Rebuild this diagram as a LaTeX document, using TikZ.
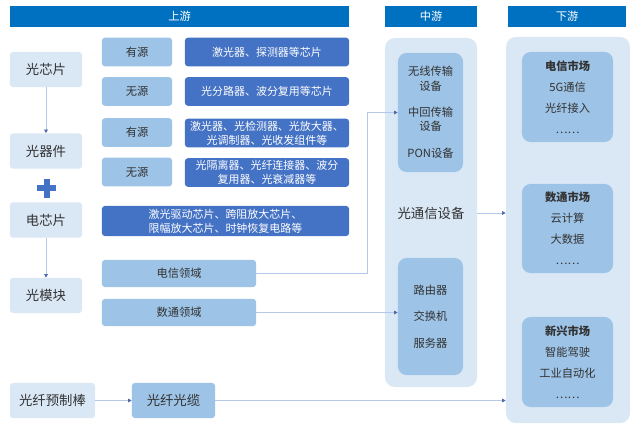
\documentclass[tikz,border=0pt]{standalone}
\usepackage{fontspec}
\setmainfont{Noto Sans CJK SC}
\usepackage{xcolor}
\usetikzlibrary{positioning, arrows.meta, calc}
\definecolor{headblue} {RGB}{0, 112, 192}
\definecolor{darkblue} {RGB}{68, 114, 196}
\definecolor{midblue}  {RGB}{157, 195, 230}
\definecolor{paleblue} {RGB}{218, 232, 246}
\definecolor{linkblue} {RGB}{180, 199, 231}
\definecolor{tipblue}  {RGB}{79, 106, 170}
\definecolor{textgray} {RGB}{50, 50, 50}
\newcommand{\boxfont}[1]{\fontsize{#1}{10pt}\selectfont}
\tikzset{
  % blue band over each stage
  hdr/.style={
    rectangle, fill=headblue, inner sep=0pt,
    minimum height=0.525cm, text=white, font=\boxfont{8}
  },
  % left column: the product chain
  leftbox/.style={
    rectangle, rounded corners=2pt, fill=paleblue, inner sep=0pt,
    minimum width=1.8cm, minimum height=0.875cm,
    text=textgray, font=\boxfont{9.5}
  },
  % active / passive tags
  typebox/.style={
    rectangle, rounded corners=2pt, fill=midblue, inner sep=0pt,
    minimum width=1.75cm, minimum height=0.7125cm,
    text=textgray, font=\boxfont{8}
  },
  % dark description boxes
  descbox/.style={
    rectangle, rounded corners=2pt, fill=darkblue, inner sep=0pt,
    minimum width=4.1cm, minimum height=0.7125cm, align=center,
    text=white, font=\boxfont{7.8}
  },
  field/.style={
    rectangle, rounded corners=2pt, fill=midblue, inner sep=0pt,
    minimum width=3.85cm, minimum height=0.675cm,
    text=textgray, font=\boxfont{8}
  },
  % stage background
  bigbox/.style={
    rectangle, rounded corners=7pt, fill=paleblue, inner sep=0pt
  },
  innerbox/.style={
    rectangle, rounded corners=6pt, fill=midblue, inner sep=0pt,
    align=center, text=textgray, font=\boxfont{8}
  },
  % connector style
  link/.style={
    -{Triangle[length=2.6pt, width=2.6pt, color=tipblue]},
    line width=0.5pt, color=linkblue
  },
}

\begin{document}
\begin{tikzpicture}[x=0.025cm, y=-0.025cm]
  \useasboundingbox (0,0) rectangle (640,428);

  % stage headers
  \node[hdr, minimum width=8.475cm] (hup)   at (179.5,16.5) {上游};
  \node[hdr, minimum width=2.3cm]   (hmid)  at (431,16.5)   {中游};
  \node[hdr, minimum width=2.95cm]  (hdown) at (567,16.5)   {下游};

  % stage backgrounds
  \node[bigbox, minimum width=2.3cm, minimum height=8.725cm] (mid)  at (431,212.5) {};
  \node[bigbox, minimum width=3.1cm, minimum height=9.65cm]  (down) at (568,230) {};

  % upstream chain
  \node[leftbox] (chip)   at (46,69.5) {光芯片};
  \node[leftbox] (dev)    at (46,151)  {光器件};
  \node[leftbox] (echip)  at (46,220)  {电芯片};
  \node[leftbox] (module) at (46,295.5) {光模块};
  \node[leftbox, minimum width=2.125cm] (preform) at (52.5,400.5) {光纤预制棒};
  \node[leftbox, fill=midblue, minimum width=2.075cm] (cable) at (173.5,400.5) {光纤光缆};
  \fill[darkblue] (37,185) rectangle (56,191);
  \fill[darkblue] (43.5,178.5) rectangle (49.5,197.5);

  \node[typebox] (act1) at (137,52)    {有源};
  \node[typebox] (pas1) at (137,91.5)  {无源};
  \node[typebox] (act2) at (137,132.5) {有源};
  \node[typebox] (pas2) at (137,172)   {无源};
  \node[descbox] (chipa) at (267,52)    {激光器、探测器等芯片};
  \node[descbox] (chipp) at (267,91.5)  {光分路器、波分复用等芯片};
  \node[descbox] (deva)  at (267,133)   {激光器、光检测器、光放大器、\\光调制器、光收发组件等};
  \node[descbox] (devp)  at (267,172.5) {光隔离器、光纤连接器、波分\\复用器、光衰减器等};
  \node[descbox, minimum width=6.175cm, minimum height=0.75cm] (echipd) at (225.5,221)
    {激光驱动芯片、跨阻放大芯片、\\限幅放大芯片、时钟恢复电路等};
  \node[field] (tel) at (179,273.5) {电信领域};
  \node[field] (dat) at (179,312.5) {数通领域};

  % midstream
  \node[innerbox, minimum width=1.625cm, minimum height=2.975cm] (wless) at (430.5,112.5)
    {无线传输\\设备\\[9pt]中回传输\\设备\\[9pt]PON设备};
  \node[text=textgray, font=\boxfont{9.5}] (comm) at (431,213) {光通信设备};
  \node[innerbox, minimum width=1.625cm, minimum height=2.925cm] (router) at (430.5,316.5)
    {路由器\\[9pt]交换机\\[9pt]服务器};

  % downstream
  \node[innerbox, minimum width=2.275cm, minimum height=2.25cm] (telmkt) at (567.5,97)
    {\textbf{电信市场}\\[5pt]5G通信\\[5pt]光纤接入\\[5pt]……};
  \node[innerbox, minimum width=2.275cm, minimum height=2.225cm] (datmkt) at (567.5,228.5)
    {\textbf{数通市场}\\[5pt]云计算\\[5pt]大数据\\[5pt]……};
  \node[innerbox, minimum width=2.275cm, minimum height=2.25cm] (newmkt) at (567.5,362)
    {\textbf{新兴市场}\\[5pt]智能驾驶\\[5pt]工业自动化\\[5pt]……};

  % connectors
  \coordinate (bend) at (367,112.5);
  \draw[link] (chip) -- (dev);
  \draw[link] (echip) -- (module);
  \draw[link] (preform) -- (cable);
  \draw[link] (tel.east) -| (bend) -- (wless);
  \draw[link] (dat.east) -- (dat.east -| router.west);
  \draw[link] (cable.east) -- (cable.east -| down.west);
  \draw[link] (comm.east -| mid.east) -- (comm.east -| down.west);
\end{tikzpicture}
\end{document}
